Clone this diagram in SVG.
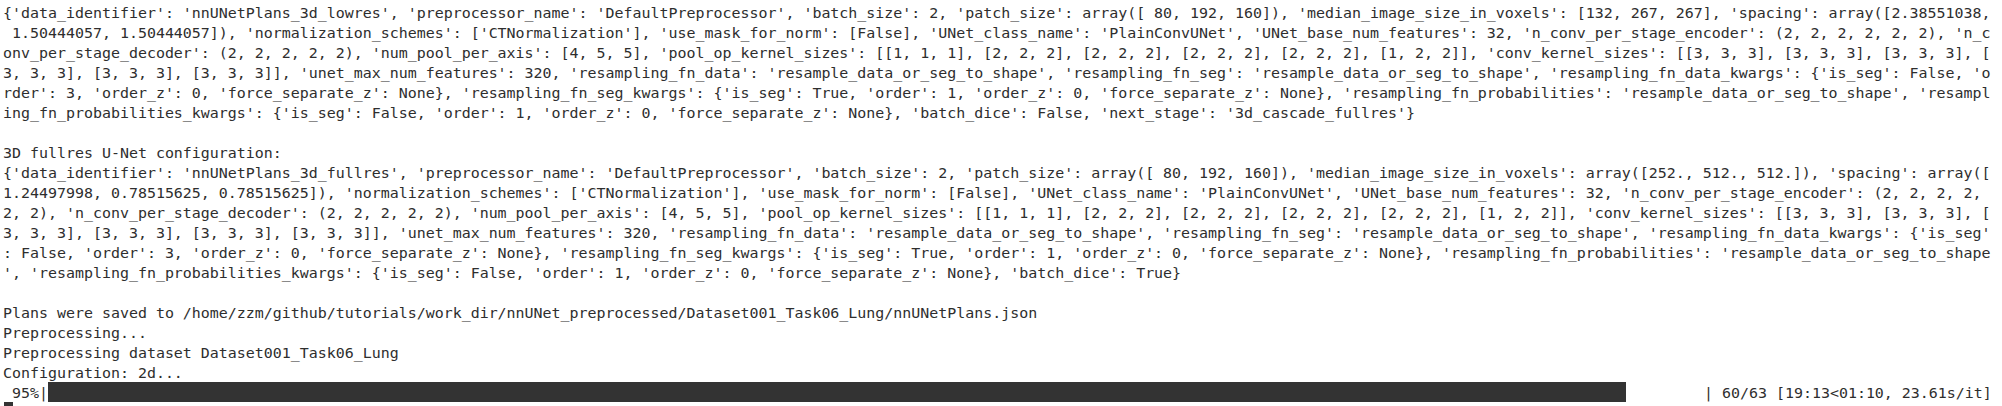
<svg xmlns="http://www.w3.org/2000/svg" width="2002" height="406" viewBox="0 0 2002 406">
<style>
text{font-family:"DejaVu Sans Mono","Liberation Mono",monospace;font-size:14.95px;fill:#2e2e2e;white-space:pre}
.blk{fill:#333333}
</style>
<rect x="0" y="0" width="2002" height="406" fill="#ffffff"/>
<g id="output">
<text x="3" y="18" xml:space="preserve">{'data_identifier': 'nnUNetPlans_3d_lowres', 'preprocessor_name': 'DefaultPreprocessor', 'batch_size': 2, 'patch_size': array([ 80, 192, 160]), 'median_image_size_in_voxels': [132, 267, 267], 'spacing': array([2.38551038,</text>
<text x="3" y="38" xml:space="preserve"> 1.50444057, 1.50444057]), 'normalization_schemes': ['CTNormalization'], 'use_mask_for_norm': [False], 'UNet_class_name': 'PlainConvUNet', 'UNet_base_num_features': 32, 'n_conv_per_stage_encoder': (2, 2, 2, 2, 2, 2), 'n_c</text>
<text x="3" y="58" xml:space="preserve">onv_per_stage_decoder': (2, 2, 2, 2, 2), 'num_pool_per_axis': [4, 5, 5], 'pool_op_kernel_sizes': [[1, 1, 1], [2, 2, 2], [2, 2, 2], [2, 2, 2], [2, 2, 2], [1, 2, 2]], 'conv_kernel_sizes': [[3, 3, 3], [3, 3, 3], [3, 3, 3], [</text>
<text x="3" y="78" xml:space="preserve">3, 3, 3], [3, 3, 3], [3, 3, 3]], 'unet_max_num_features': 320, 'resampling_fn_data': 'resample_data_or_seg_to_shape', 'resampling_fn_seg': 'resample_data_or_seg_to_shape', 'resampling_fn_data_kwargs': {'is_seg': False, 'o</text>
<text x="3" y="98" xml:space="preserve">rder': 3, 'order_z': 0, 'force_separate_z': None}, 'resampling_fn_seg_kwargs': {'is_seg': True, 'order': 1, 'order_z': 0, 'force_separate_z': None}, 'resampling_fn_probabilities': 'resample_data_or_seg_to_shape', 'resampl</text>
<text x="3" y="118" xml:space="preserve">ing_fn_probabilities_kwargs': {'is_seg': False, 'order': 1, 'order_z': 0, 'force_separate_z': None}, 'batch_dice': False, 'next_stage': '3d_cascade_fullres'}</text>
<text x="3" y="158" xml:space="preserve">3D fullres U-Net configuration:</text>
<text x="3" y="178" xml:space="preserve">{'data_identifier': 'nnUNetPlans_3d_fullres', 'preprocessor_name': 'DefaultPreprocessor', 'batch_size': 2, 'patch_size': array([ 80, 192, 160]), 'median_image_size_in_voxels': array([252., 512., 512.]), 'spacing': array([</text>
<text x="3" y="198" xml:space="preserve">1.24497998, 0.78515625, 0.78515625]), 'normalization_schemes': ['CTNormalization'], 'use_mask_for_norm': [False], 'UNet_class_name': 'PlainConvUNet', 'UNet_base_num_features': 32, 'n_conv_per_stage_encoder': (2, 2, 2, 2,</text>
<text x="3" y="218" xml:space="preserve">2, 2), 'n_conv_per_stage_decoder': (2, 2, 2, 2, 2), 'num_pool_per_axis': [4, 5, 5], 'pool_op_kernel_sizes': [[1, 1, 1], [2, 2, 2], [2, 2, 2], [2, 2, 2], [2, 2, 2], [1, 2, 2]], 'conv_kernel_sizes': [[3, 3, 3], [3, 3, 3], [</text>
<text x="3" y="238" xml:space="preserve">3, 3, 3], [3, 3, 3], [3, 3, 3], [3, 3, 3]], 'unet_max_num_features': 320, 'resampling_fn_data': 'resample_data_or_seg_to_shape', 'resampling_fn_seg': 'resample_data_or_seg_to_shape', 'resampling_fn_data_kwargs': {'is_seg'</text>
<text x="3" y="258" xml:space="preserve">: False, 'order': 3, 'order_z': 0, 'force_separate_z': None}, 'resampling_fn_seg_kwargs': {'is_seg': True, 'order': 1, 'order_z': 0, 'force_separate_z': None}, 'resampling_fn_probabilities': 'resample_data_or_seg_to_shape</text>
<text x="3" y="278" xml:space="preserve">', 'resampling_fn_probabilities_kwargs': {'is_seg': False, 'order': 1, 'order_z': 0, 'force_separate_z': None}, 'batch_dice': True}</text>
<text x="3" y="318" xml:space="preserve">Plans were saved to /home/zzm/github/tutorials/work_dir/nnUNet_preprocessed/Dataset001_Task06_Lung/nnUNetPlans.json</text>
<text x="3" y="338" xml:space="preserve">Preprocessing...</text>
<text x="3" y="358" xml:space="preserve">Preprocessing dataset Dataset001_Task06_Lung</text>
<text x="3" y="378" xml:space="preserve">Configuration: 2d...</text>
</g>
<g id="progress">
<text x="3" y="398" xml:space="preserve"> 95%|</text>
<rect class="blk" x="48" y="382" width="1578" height="20"/>
<text x="1704" y="398" xml:space="preserve">| 60/63 [19:13&lt;01:10, 23.61s/it]</text>
<rect class="blk" x="4" y="402" width="9" height="4"/>
</g>
</svg>
